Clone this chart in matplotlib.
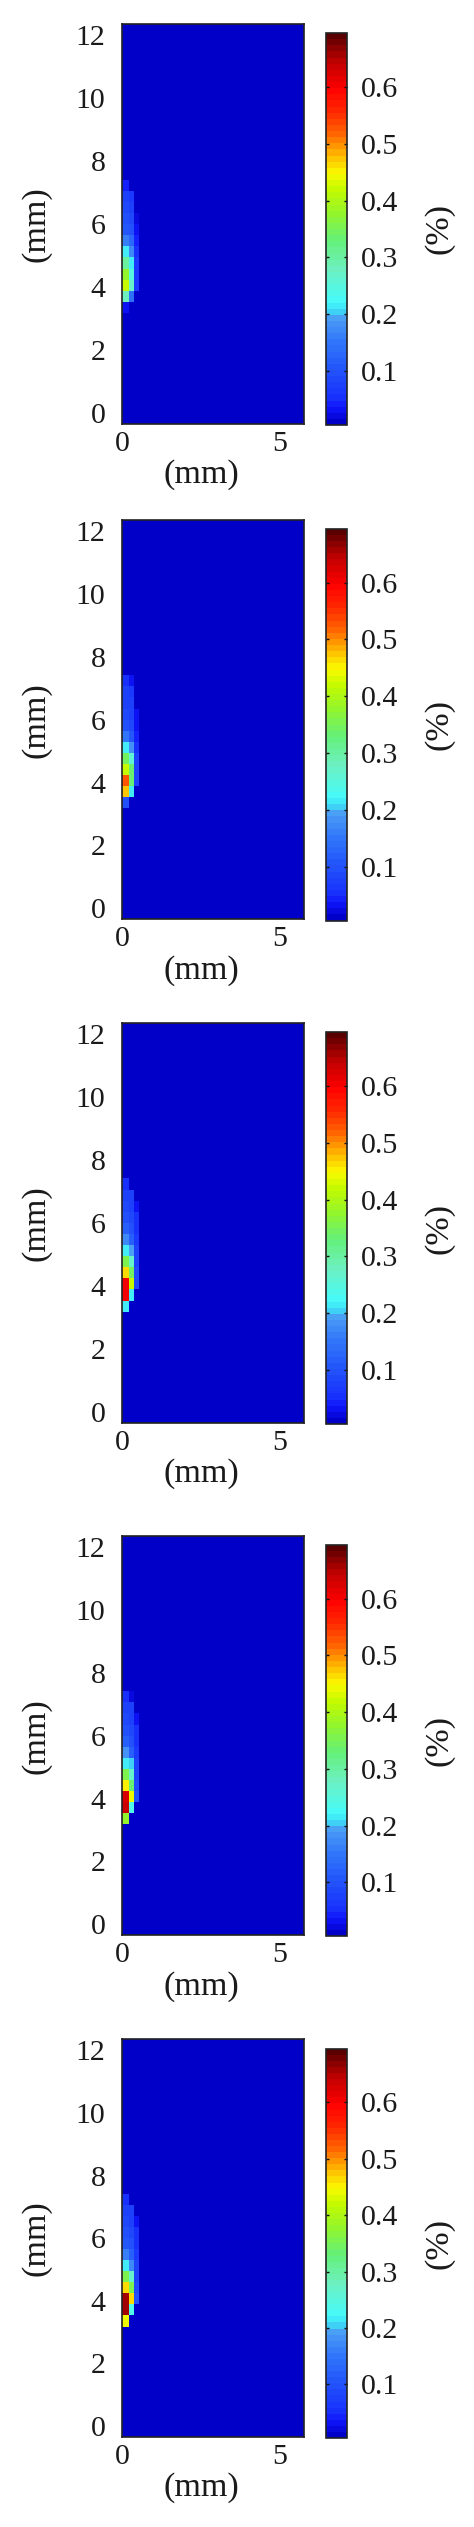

# five strain maps with colorbars, one under the other
import numpy as np
import matplotlib
matplotlib.use('Agg')
import matplotlib.pyplot as plt
from matplotlib.colors import LinearSegmentedColormap

plt.rcParams['font.family'] = ['Liberation Serif', 'DejaVu Serif']

# hot cells near the left edge, lowest row first, columns left to right
panel1 = [[.03, .01, 0], [.28, .14, .01], [.42, .27, .06], [.38, .25, .06], [.30, .22, .06], [.22, .17, .05],
          [.16, .13, .04], [.11, .10, .03], [.10, .09, .02], [.09, .08, .01], [.08, .06, 0], [.04, .01, 0]]
panel2 = [[.10, 0, 0], [.47, .22, .01], [.53, .33, .07], [.42, .33, .07], [.34, .26, .07], [.22, .18, .05],
          [.15, .11, .04], [.10, .09, .03], [.09, .08, .03], [.08, .07, .01], [.07, .06, .01], [.05, .03, 0]]
panel3 = [[.22, 0, 0], [.60, .22, .01], [.60, .42, .09], [.46, .34, .09], [.36, .27, .08], [.22, .19, .07],
          [.17, .12, .06], [.12, .10, .05], [.10, .09, .05], [.09, .08, .03], [.08, .07, .01], [.05, .01, 0]]
panel4 = [[.38, 0, 0], [.64, .24, .01], [.63, .44, .10], [.45, .33, .09], [.35, .27, .08], [.22, .20, .07],
          [.18, .12, .06], [.12, .10, .05], [.10, .09, .05], [.09, .08, .03], [.08, .07, .01], [.05, .02, 0]]
panel5 = [[.44, 0, 0], [.66, .24, .01], [.66, .46, .10], [.46, .36, .09], [.36, .27, .08], [.21, .17, .07],
          [.16, .12, .06], [.11, .10, .05], [.10, .09, .05], [.09, .08, .03], [.08, .07, .01], [.05, .01, 0]]
panels = [panel1, panel2, panel3, panel4, panel5]

yticks = [0, 2, 4, 6, 8, 10, 12]
xticks = [0, 5]
cticks = [0.1, 0.2, 0.3, 0.4, 0.5, 0.6]
vmin, vmax = 0.005, 0.695

# pixel boxes: top, bottom of map and colorbar
W, H = 474, 2527
map_boxes = [(24.3, 424), (520, 919.3), (1023, 1422.7), (1536, 1935.3), (2039.3, 2437)]
bar_boxes = [(33, 425), (528.7, 920.5), (1032, 1424), (1544.7, 1936.3), (2048.7, 2438)]

# the colorbar is a washed jet with a jump near 0.2
stops = [(0.005, (0, 0, 200)), (0.03, (15, 20, 250)), (0.05, (25, 50, 252)), (0.10, (35, 85, 250)),
         (0.15, (50, 120, 250)), (0.19, (75, 155, 245)), (0.205, (60, 220, 245)), (0.22, (70, 250, 250)),
         (0.28, (110, 240, 190)), (0.33, (100, 240, 120)), (0.38, (150, 245, 40)), (0.42, (195, 250, 0)),
         (0.45, (250, 250, 0)), (0.48, (255, 190, 0)), (0.52, (255, 100, 0)), (0.56, (255, 40, 0)),
         (0.60, (255, 0, 0)), (0.65, (190, 0, 0)), (0.695, (90, 0, 0))]
cmap = LinearSegmentedColormap.from_list(
    'strain', [((v - vmin) / (vmax - vmin), tuple(c / 255 for c in rgb)) for v, rgb in stops], N=64)

x_edges = np.r_[0, 0.04 + 0.17 * np.arange(1, 35)]
x_edges[-1] = 5.76
y_edges = -0.35 + 0.3528 * np.arange(37)

fig = plt.figure(figsize=(W / 100, H / 100), dpi=100)

for cells, (top, bottom), (ctop, cbottom) in zip(panels, map_boxes, bar_boxes):
    ax = fig.add_axes([122 / W, 1 - bottom / H, 182 / W, (bottom - top) / H])
    grid = np.zeros((len(y_edges) - 1, len(x_edges) - 1))
    grid[10:10 + len(cells), :3] = cells
    mesh = ax.pcolormesh(x_edges, y_edges, grid, cmap=cmap, vmin=vmin, vmax=vmax)
    ax.set_xlim(0, 5.76)
    ax.set_ylim(-0.35, 12.35)
    ax.set_xticks(xticks)
    ax.set_yticks(yticks)
    ax.tick_params(length=0, labelsize=21.5, colors='#1a1a1a')
    ax.tick_params(axis='x', pad=5)
    ax.tick_params(axis='y', pad=12)
    ax.set_xlabel('(mm)', fontsize=24.5, color='#1a1a1a', va='center')
    ax.xaxis.set_label_coords(0.434, -0.1275)
    ax.set_ylabel('(mm)', fontsize=24.5, color='#1a1a1a', va='center')
    ax.yaxis.set_label_coords(-0.471, 0.5)
    for s in ax.spines.values():
        s.set_linewidth(1.2)
        s.set_color('#222222')

    cax = fig.add_axes([326 / W, 1 - cbottom / H, 21 / W, (cbottom - ctop) / H])
    cb = fig.colorbar(mesh, cax=cax)
    cb.set_ticks(cticks)
    cb.set_ticklabels(['%.1f' % t for t in cticks])
    cax.tick_params(direction='in', left=True, right=True, length=2.5, width=1, pad=10,
                    labelsize=21.5, color='#111111', labelcolor='#1a1a1a')
    cb.outline.set_linewidth(1.2)
    cb.outline.set_edgecolor('#222222')
    cb.set_label('(%)', fontsize=24.5, color='#1a1a1a', va='center')
    cax.yaxis.set_label_coords((439 - 326) / 21, 0.5)

fig.savefig('out.png', dpi=100)
